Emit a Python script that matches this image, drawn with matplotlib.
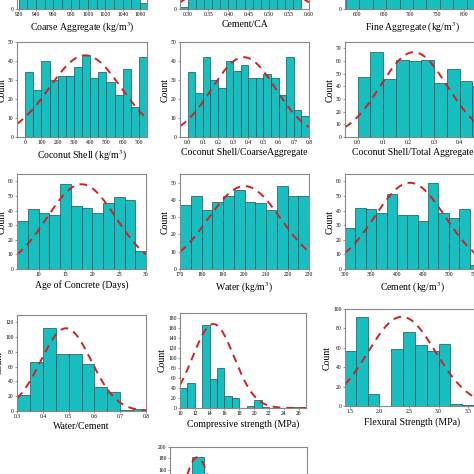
import numpy as np
from matplotlib import pyplot as plt

plt.rcParams['font.family'] = ['Liberation Serif', 'DejaVu Serif']
plt.rcParams['mathtext.fontset'] = 'stix'

BAR = '#17bfc0'
EDGE = '#1f4f55'
RED = '#d42020'

# ---- data: bin starts, bin width, counts, fitted normal (mean, sd, peak) ----
coarse_start, coarse_w = 920, 10
coarse_counts = [40, 40, 40, 40, 40, 40, 40, 40, 40, 40, 40, 40, 40, 40, 3]

cca_start, cca_w = 0.28, 0.02
cca_counts = [1, 40, 40, 40, 40, 40, 40, 40, 40, 40, 40, 40, 40, 40, 40]

fine_start, fine_w = 580, 25
fine_counts = [40, 40, 40, 40, 40, 40, 40, 40, 40, 40]

cs_start, cs_w = 0, 50
cs_counts = [34, 25, 40, 30, 32, 32, 37, 43, 31, 34, 29, 22, 36, 16, 42]

csca_start, csca_w = 0.0, 0.05
csca_counts = [34, 23, 42, 30, 26, 40, 35, 38, 31, 31, 33, 31, 22, 42, 14, 11]

csta_start, csta_w = 0.0, 0.05
csta_counts = [47, 67, 46, 61, 60, 61, 43, 54, 44, 40]

age_start, age_w = 6, 2
age_counts = [33, 41, 38, 37, 58, 43, 42, 38, 45, 49, 47, 12]

water_start, water_w = 170, 5
water_counts = [37, 42, 34, 39, 42, 46, 39, 38, 34, 48, 42, 42]

cem_start, cem_w = 300, 20
cem_counts = [28, 42, 41, 38, 51, 37, 37, 33, 59, 38, 35, 41, 3]

wc_start, wc_w = 0.3, 0.05
wc_counts = [22, 67, 112, 77, 77, 64, 32, 26, 2, 3]

comp_start, comp_w = 10, 1
comp_counts = [40, 51, 0, 167, 58, 80, 25, 21, 0, 5, 17, 3, 1, 0, 0, 2, 3]

flex_start, flex_w = 1.4, 0.2
flex_counts = [57, 92, 12, 0, 59, 76, 63, 57, 64, 2, 1]

last_start, last_w = 0.7, 0.9
last_counts = [60, 183, 100, 148, 60, 20, 5]


def px_axes(fig, l, t, r, b):
    W, H = 474, 474
    return fig.add_axes([l / W, 1 - b / H, (r - l) / W, (b - t) / H])


def hist_panel(ax, start, w, counts, fit, xlim, ylim, xticks, yticks, xlabel, ylabel=True,
               xfmt='{:g}'):
    edges = start + w * np.arange(len(counts))
    ax.bar(edges, counts, width=w, align='edge', color=BAR, edgecolor=EDGE, linewidth=0.5)
    mu, sd, peak = fit
    xs = np.linspace(xlim[0], xlim[1], 200)
    ax.plot(xs, peak * np.exp(-(xs - mu) ** 2 / (2 * sd ** 2)), color=RED, lw=1.4,
            dashes=(4, 3))
    ax.set_xlim(xlim)
    ax.set_ylim(ylim)
    ax.set_xticks(xticks)
    ax.set_xticklabels([xfmt.format(v) for v in xticks])
    ax.set_yticks(yticks)
    ax.tick_params(labelsize=4, length=1.5, width=0.4, pad=1, color='#555555')
    for s in ax.spines.values():
        s.set_color('#888888')
        s.set_linewidth(0.8)
    ax.set_xlabel(xlabel, fontsize=7, labelpad=2)
    if ylabel:
        ax.set_ylabel('Count', fontsize=7, labelpad=1)


fig = plt.figure(figsize=(4.74, 4.74), dpi=100)

# row 1 (cut off at top)
ax = px_axes(fig, 17, -86, 147, 9)
hist_panel(ax, coarse_start, coarse_w, coarse_counts, (1000, 60, 60), (918, 1068), (0, 50),
           range(920, 1061, 20), [0], 'Coarse Aggregate (kg/m$^3$)', ylabel=False)
ax = px_axes(fig, 180, -86, 309, 9)
hist_panel(ax, cca_start, cca_w, cca_counts, (0.44, 0.07, 48), (0.28, 0.60), (0, 50),
           [0.30, 0.35, 0.40, 0.45, 0.50, 0.55, 0.60], [0], 'Cement/CA', ylabel=False,
           xfmt='{:.2f}')
ax = px_axes(fig, 345, -86, 480, 9)
hist_panel(ax, fine_start, fine_w, fine_counts, (700, 80, 60), (578, 830), (0, 50),
           [600, 650, 700, 750, 800], [0], 'Fine Aggregate (kg/m$^3$)', ylabel=False)

# row 2
ax = px_axes(fig, 17, 42, 147, 137)
hist_panel(ax, cs_start, cs_w, cs_counts, (370, 220, 43), (-50, 750), (0, 50),
           range(0, 701, 100), range(0, 51, 10), 'Coconut Shell (kg/m$^3$)')
ax = px_axes(fig, 180, 42, 309, 137)
hist_panel(ax, csca_start, csca_w, csca_counts, (0.37, 0.21, 42), (-0.05, 0.8), (0, 50),
           [0.0, 0.1, 0.2, 0.3, 0.4, 0.5, 0.6, 0.7, 0.8], range(0, 51, 10),
           'Coconut Shell/CoarseAggregate', xfmt='{:.1f}')
ax = px_axes(fig, 345, 42, 480, 137)
hist_panel(ax, csta_start, csta_w, csta_counts, (0.22, 0.13, 67), (-0.05, 0.48), (0, 75),
           [0.0, 0.1, 0.2, 0.3, 0.4], range(0, 71, 10), 'Coconut Shell/Total Aggregate',
           xfmt='{:.1f}')

# row 3
ax = px_axes(fig, 17, 174, 146, 269)
hist_panel(ax, age_start, age_w, age_counts, (18, 6.4, 58), (6, 30), (0, 65),
           [10, 15, 20, 25, 30], range(0, 61, 10), 'Age of Concrete (Days)')
ax = px_axes(fig, 180, 174, 309, 269)
hist_panel(ax, water_start, water_w, water_counts, (200, 16.9, 48), (170, 230), (0, 55),
           range(170, 231, 10), range(0, 51, 10), 'Water (kg/m$^3$)')
ax = px_axes(fig, 345, 174, 480, 269)
hist_panel(ax, cem_start, cem_w, cem_counts, (425, 68, 59), (300, 560), (0, 65),
           range(300, 551, 50), range(0, 61, 10), 'Cement (kg/m$^3$)')

# row 4
ax = px_axes(fig, 17, 315, 146, 411)
hist_panel(ax, wc_start, wc_w, wc_counts, (0.49, 0.098, 112), (0.3, 0.8), (0, 130),
           [0.3, 0.4, 0.5, 0.6, 0.7, 0.8], range(0, 121, 20), 'Water/Cement', xfmt='{:.1f}')
ax = px_axes(fig, 180, 313, 306, 408)
hist_panel(ax, comp_start, comp_w, comp_counts, (14.5, 2.8, 168), (10, 27), (0, 190),
           range(10, 27, 2), range(0, 181, 20), 'Compressive strength (MPa)')
ax = px_axes(fig, 345, 309, 480, 406)
hist_panel(ax, flex_start, flex_w, flex_counts, (2.38, 0.57, 92), (1.42, 3.7), (0, 100),
           [1.5, 2.0, 2.5, 3.0, 3.5], range(0, 101, 20), 'Flexural Strength (MPa)',
           xfmt='{:.1f}')

# row 5 (cut off at bottom)
ax = px_axes(fig, 170, 447, 307, 560)
hist_panel(ax, last_start, last_w, last_counts, (2.0, 1.2, 182), (0, 10), (0, 200),
           range(0, 11, 2), range(0, 201, 20), '', ylabel=False)

fig.savefig('out.png', dpi=100)
